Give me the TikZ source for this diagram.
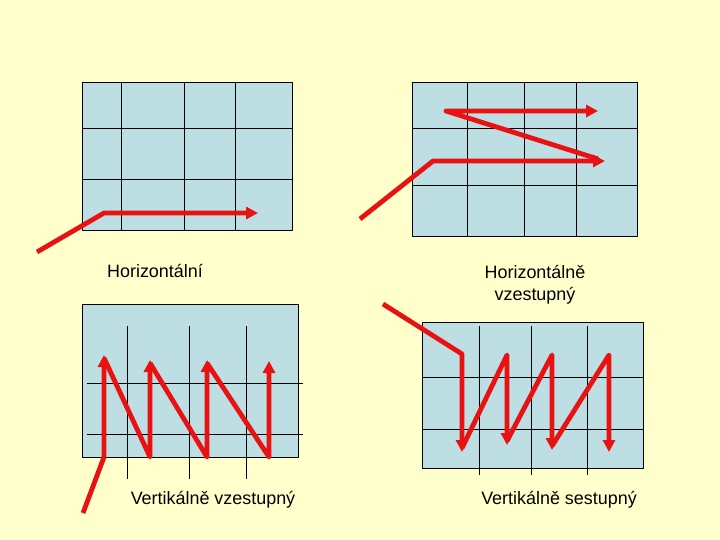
\documentclass[tikz,border=0pt]{standalone}
\usepackage{fontspec}
\setmainfont{Liberation Sans}
\usetikzlibrary{arrows.meta}
\definecolor{bgyellow}{RGB}{255,255,204}
\definecolor{gridblue}{RGB}{189,222,227}
\definecolor{scanred}{RGB}{232,18,18}
\begin{document}
\begin{tikzpicture}[x=1bp,y=-1bp, line join=round,
  grid/.style={fill=gridblue,draw=black,line width=0.9bp},
  gline/.style={draw=black,line width=0.9bp},
  scan/.style={draw=scanred,line width=4.8bp,-{Triangle[length=12bp,width=12bp]}},
  lbl/.style={font=\fontsize{18}{22}\selectfont,align=center}]
\fill[bgyellow] (0,0) rectangle (720,540);
% horizontalni
\filldraw[grid] (82,82) rectangle (292,230);
\draw[gline] (121,82)--(121,230) (184,82)--(184,230) (235,82)--(235,230) (82,128)--(292,128) (82,179)--(292,179);
\draw[scan] (37,252)--(104,213)--(258,213);
% horizontalne vzestupny
\filldraw[grid] (412,82) rectangle (637,236);
\draw[gline] (467,82)--(467,236) (524,82)--(524,236) (576,82)--(576,236) (412,128)--(637,128) (412,185)--(637,185);
\draw[scan] (360,219)--(433,161)--(605,161);
\draw[scan] (598,159)--(446,111)--(598,111);
% vertikalne vzestupny
\filldraw[grid] (82,304) rectangle (298,457);
\draw[gline] (127,326)--(127,479) (189,326)--(189,479) (246,326)--(246,479) (87,383)--(303,383) (87,434)--(303,434);
\draw[scan] (83,513)--(104,457)--(104,355);
\draw[scan] (104,358)--(150,457)--(150,360);
\draw[scan] (150,363)--(207,457)--(207,360);
\draw[scan] (207,363)--(269,457)--(269,361);
% vertikalne sestupny
\filldraw[grid] (422,322) rectangle (643,468);
\draw[gline] (479,326)--(479,475) (531,326)--(531,475) (587,326)--(587,475) (422,377)--(643,377) (422,429)--(643,429);
\draw[scan] (383,304)--(462,354)--(462,452);
\draw[scan] (462,448)--(507,355)--(507,445);
\draw[scan] (507,441)--(552,355)--(552,450);
\draw[scan] (552,446)--(609,355)--(609,452);
\node[lbl] (hlabel) at (155,271) {Horizontální};
\node[lbl] (hvlabel) at (535,285) {Horizontálně\\vzestupný};
\node[lbl] (vvlabel) at (213,500) {Vertikálně vzestupný};
\node[lbl] (vslabel) at (559,500) {Vertikálně sestupný};
\end{tikzpicture}
\end{document}
